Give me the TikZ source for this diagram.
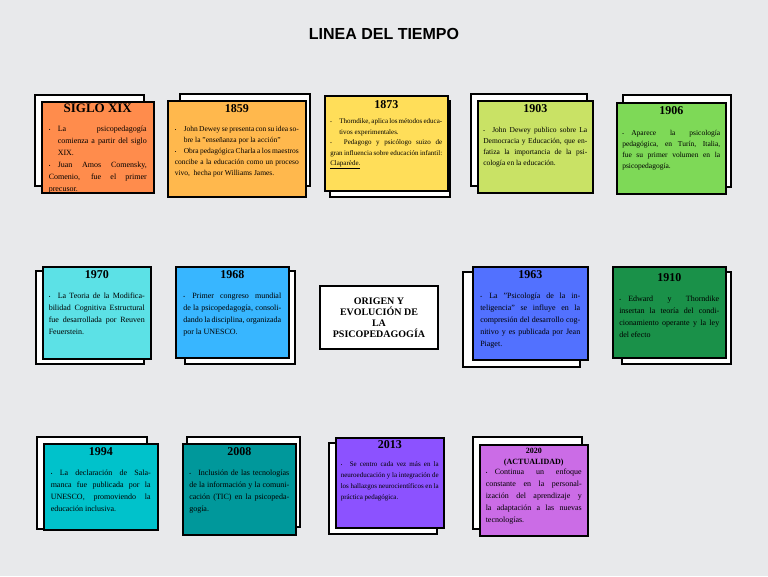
\documentclass[tikz,border=0pt]{standalone}
\usepackage{fontspec}
\setmainfont{Liberation Serif}
\newfontfamily\titlefont{Liberation Sans}
\pgfdeclarelayer{bg}
\pgfsetlayers{bg,main}
\newcommand\itm{\par\noindent\hangindent=9pt\hbox to 9pt{\scalebox{0.6}{\textbullet}\hfil}}
\definecolor{cbg}{HTML}{E8E9EB}
\definecolor{c1}{HTML}{FF8C4C}
\definecolor{c2}{HTML}{FFB84D}
\definecolor{c3}{HTML}{FFDE59}
\definecolor{c4}{HTML}{C9E265}
\definecolor{c5}{HTML}{7ED957}
\definecolor{c6}{HTML}{5CE1E6}
\definecolor{c7}{HTML}{38B6FF}
\definecolor{c8}{HTML}{5271FF}
\definecolor{c9}{HTML}{1A9149}
\definecolor{c10}{HTML}{00C2CB}
\definecolor{c11}{HTML}{00989B}
\definecolor{c12}{HTML}{8C52FF}
\definecolor{c13}{HTML}{CB6CE6}
\tikzset{
 back/.style={draw=black,fill=white,line width=1.5pt},
 front/.style={draw=black,line width=1.5pt,anchor=north west,inner sep=0pt},
 txt/.style={anchor=north,inner sep=0pt,align=justify,font=\fontsize{7.5}{11}\selectfont},
 yr/.style={font=\bfseries\fontsize{12}{12}\selectfont,anchor=north,inner sep=0pt},
 conn/.style={line width=3pt,black}
}
\newcommand\ev[9]{% name,color,x1,y1,x2,y2, back offsets (bx1,by1)(bx2,by2) , content
 \fill[cbg] (0,0) rectangle (0,0);
}
\begin{document}
\begin{tikzpicture}[x=1pt,y=-1pt]
\fill[cbg] (0,0) rectangle (768,576);
\useasboundingbox (0,0) rectangle (768,576);
\node[font=\titlefont\bfseries\fontsize{16}{16}\selectfont] (title) at (384,34) {LINEA DEL TIEMPO};

% Row 1
\draw[back] (35,95) rectangle (144,186);
\node[front,fill=c1,minimum width=112pt,minimum height=91pt] (s19) at (41,101) {};
\node[yr,font=\bfseries\fontsize{13}{13}\selectfont] at ([yshift=-3pt]s19.north) {SIGLO XIX};
\node[txt,text width=98pt,font=\fontsize{8}{12}\selectfont] at ([yshift=-18pt]s19.north) {\itm La psicopedagogía comienza a partir del siglo XIX.\itm Juan Amos Comensky, Comenio, fue el primer precusor.};

\draw[back] (180,94) rectangle (310,186);
\node[front,fill=c2,minimum width=138pt,minimum height=96pt] (a1859) at (167,100) {};
\node[yr] at ([yshift=-4pt]a1859.north) {1859};
\node[txt,text width=124pt] at ([yshift=-20pt]a1859.north) {\itm John Dewey se presenta con su idea sobre la "enseñanza por la acción"\itm Obra pedagógica Charla a los maestros concibe a la educación como un proceso vivo,\ \ hecha por Williams James.};

\draw[back] (330,101) rectangle (450,197);
\node[front,fill=c3,minimum width=123pt,minimum height=95pt] (a1873) at (324,95) {};
\node[yr] at ([yshift=-5pt]a1873.north) {1873};
\node[txt,text width=112pt,font=\fontsize{7}{10.5}\selectfont] at ([yshift=-18pt]a1873.north) {\itm Thorndike, aplica los métodos educativos experimentales.\itm\ Pedagogo y psicólogo suizo de gran influencia sobre educación infantil: \underline{Claparède.}};

\draw[back] (471,94) rectangle (587,186);
\node[front,fill=c4,minimum width=115pt,minimum height=92pt] (a1903) at (477,100) {};
\node[yr] at ([yshift=-4pt]a1903.north) {1903};
\node[txt,text width=104pt] at ([yshift=-21pt]a1903.north) {\itm John Dewey publico sobre La Democracia y Educación, que enfatiza la importancia de la psicología en la educación.};

\draw[back] (623,95) rectangle (731,187);
\node[front,fill=c5,minimum width=109pt,minimum height=91pt] (a1906) at (616,102) {};
\node[yr] at ([yshift=-4pt]a1906.north) {1906};
\node[txt,text width=98pt] at ([yshift=-22pt]a1906.north) {\itm Aparece la psicología pedagógica, en Turín, Italia, fue su primer volumen en la psicopedagogía.};

% Row 2
\draw[back] (36,271) rectangle (144,364);
\node[front,fill=c6,minimum width=108pt,minimum height=92pt] (a1970) at (42,266) {};
\node[yr] at ([yshift=-4pt]a1970.north) {1970};
\node[txt,text width=96pt,font=\fontsize{8}{12}\selectfont] at ([yshift=-20pt]a1970.north) {\itm La Teoria de la Modificabilidad Cognitiva Estructural fue desarrollada por Reuven Feuerstein.};

\draw[back] (185,271) rectangle (295,364);
\node[front,fill=c7,minimum width=113pt,minimum height=91pt] (a1968) at (175,266) {};
\node[yr] at ([yshift=-4pt]a1968.north) {1968};
\node[txt,text width=98pt,font=\fontsize{8}{12}\selectfont] at ([yshift=-20pt]a1968.north) {\itm Primer congreso mundial de la psicopedagogía, consolidando la disciplina, organizada por la UNESCO.};

\node[draw=black,fill=white,line width=1.5pt,minimum width=118pt,minimum height=63pt,align=center,inner sep=0pt,font=\bfseries\fontsize{10}{11}\selectfont] (orig) at (379,317.5) {ORIGEN Y\\EVOLUCIÓN DE\\LA\\PSICOPEDAGOGÍA};

\draw[back] (463,272) rectangle (580,367);
\node[front,fill=c8,minimum width=115pt,minimum height=93pt] (a1963) at (472,266) {};
\node[yr] at ([yshift=-4pt]a1963.north) {1963};
\node[txt,text width=100pt,font=\fontsize{8}{12}\selectfont] at ([yshift=-20pt]a1963.north) {\itm La "Psicología de la inteligencia" se influye en la compresión del desarrollo cognitivo y es publicada por Jean Piaget.};

\draw[back] (622,272) rectangle (731,364);
\node[front,fill=c9,minimum width=113pt,minimum height=91pt] (a1910) at (612,266) {};
\node[yr] at ([yshift=-7pt]a1910.north) {1910};
\node[txt,text width=100pt,font=\fontsize{8}{12}\selectfont] at ([yshift=-23pt]a1910.north) {\itm Edward y Thorndike insertan la teoría del condicionamiento operante y la ley del efecto};

% Row 3
\draw[back] (37,437) rectangle (147,529);
\node[front,fill=c10,minimum width=114pt,minimum height=86pt] (a1994) at (43,443) {};
\node[yr] at ([yshift=-4pt]a1994.north) {1994};
\node[txt,text width=100pt,font=\fontsize{8}{12}\selectfont] at ([yshift=-20pt]a1994.north) {\itm La declaración de Salamanca fue publicada por la UNESCO, promoviendo la educación inclusiva.};

\draw[back] (187,437) rectangle (300,527);
\node[front,fill=c11,minimum width=113pt,minimum height=91pt] (a2008) at (182,443) {};
\node[yr] at ([yshift=-4pt]a2008.north) {2008};
\node[txt,text width=100pt,font=\fontsize{8}{12}\selectfont] at ([yshift=-20pt]a2008.north) {\itm Inclusión de las tecnologías de la información y la comunicación (TIC) en la psicopedagogía.};

\draw[back] (329,443) rectangle (437,534);
\node[front,fill=c12,minimum width=108pt,minimum height=90pt] (a2013) at (335,437) {};
\node[yr] at ([yshift=-3pt]a2013.north) {2013};
\node[txt,text width=98pt,font=\fontsize{7}{11}\selectfont] at ([yshift=-18pt]a2013.north) {\itm Se centro cada vez más en la neuroeducación y la integración de los hallazgos neurocientíficos en la práctica pedagógica.};

\draw[back] (473,437) rectangle (582,529);
\node[front,fill=c13,minimum width=108pt,minimum height=91pt] (a2020) at (479,444) {};
\node[anchor=north,inner sep=0pt,align=center,font=\bfseries\fontsize{8}{10.5}\selectfont] at ([yshift=-4pt]a2020.north) {2020\\(ACTUALIDAD)};
\node[txt,text width=96pt,font=\fontsize{8}{12}\selectfont] at ([yshift=-18pt]a2020.north) {\itm Continua un enfoque constante en la personalización del aprendizaje y la adaptación a las nuevas tecnologías.};
\coordinate (endpt) at (687,482);

\begin{pgfonlayer}{bg}
\draw[conn] (s19.east) -- (a1859.west);
\draw[conn] (a1859.east) -- (a1873.west);
\draw[conn] (a1873.east) -- (a1903.west);
\draw[conn] (a1903.east) -- (a1906.west);
\draw[conn] ([xshift=5pt]a1906.south) .. controls +(12,25) and +(5,-30) .. ([xshift=16pt]a1910.north);
\draw[conn] (a1910.west) -- (a1963.east);
\draw[conn] (a1963.west) -- (orig.east);
\draw[conn] (orig.west) -- (a1968.east);
\draw[conn] (a1968.west) -- (a1970.east);
\draw[conn] ([xshift=-20pt]a1970.south) .. controls +(-10,25) and +(-8,-30) .. ([xshift=-25pt]a1994.north);
\draw[conn] (a1994.east) -- (a2008.west);
\draw[conn] (a2008.east) -- (a2013.west);
\draw[conn] (a2013.east) -- (a2020.west);
\draw[conn] (a2020.east) -- (endpt);
\end{pgfonlayer}
\end{tikzpicture}
\end{document}
